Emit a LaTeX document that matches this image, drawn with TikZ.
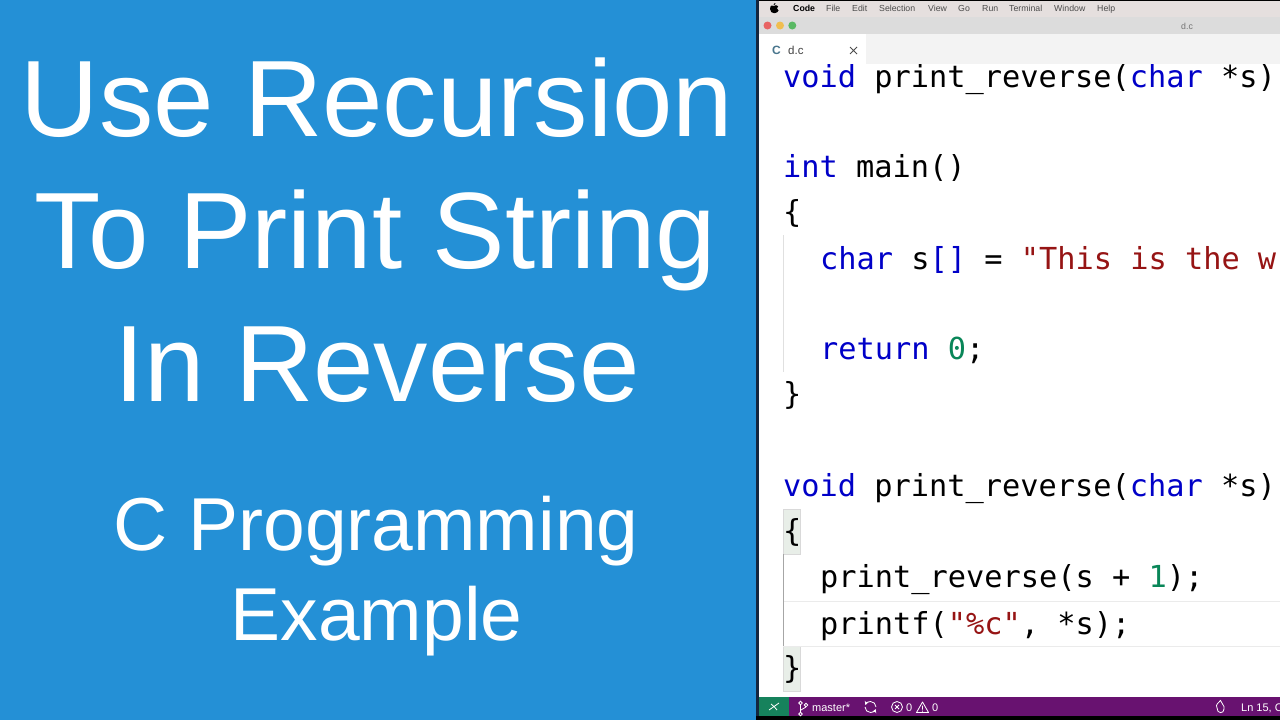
\documentclass[tikz,border=0pt]{standalone}
\usepackage{fontspec}
\setmainfont{Liberation Sans}
\newfontfamily\codefont{DejaVu Sans Mono}
\definecolor{panelblue}{RGB}{36,144,214}
\definecolor{edgedark}{RGB}{20,38,62}
\definecolor{menugrey}{RGB}{229,223,222}
\definecolor{titlegrey}{RGB}{220,220,220}
\definecolor{tabgrey}{RGB}{243,243,243}
\definecolor{barpurple}{RGB}{104,18,112}
\definecolor{bargreen}{RGB}{22,130,92}
\definecolor{kwblue}{RGB}{0,0,200}
\definecolor{strred}{RGB}{150,20,20}
\definecolor{numgreen}{RGB}{9,134,88}
\definecolor{matchgrey}{RGB}{232,238,232}
\definecolor{dotred}{RGB}{232,100,100}
\definecolor{dotyellow}{RGB}{240,190,80}
\definecolor{dotgreen}{RGB}{90,185,100}
\newcommand{\kw}[1]{\textcolor{kwblue}{#1}}
\newcommand{\str}[1]{\textcolor{strred}{#1}}
\newcommand{\num}[1]{\textcolor{numgreen}{#1}}
\tikzset{
    bigtitle/.style={text=white, anchor=base, inner sep=0pt, font=\fontsize{108.6}{120}\selectfont},
    subtitle/.style={text=white, anchor=base, inner sep=0pt, font=\fontsize{75}{85}\selectfont},
    codeline/.style={anchor=base west, inner sep=0pt, font=\codefont\fontsize{30.3}{36}\selectfont},
    menuitem/.style={anchor=base west, inner sep=0pt, text=black!70, font=\fontsize{8.75}{10}\selectfont},
    statusitem/.style={anchor=base west, inner sep=0pt, text=white, font=\fontsize{11}{13}\selectfont},
    windowdot/.style={circle, minimum size=8pt, inner sep=0pt},
    matchbox/.style={fill=matchgrey, draw=black!15, line width=0.6pt},
    statusicon/.style={draw=white, line width=0.8pt}
}
\begin{document}
\begin{tikzpicture}[x=1pt, y=-1pt]
    \useasboundingbox (0, 0) rectangle (1280, 720);
    % left panel
    \fill[panelblue] (0, 0) rectangle (756, 720);
    \node[bigtitle] (titleone) at (377, 136) {Use Recursion};
    \node[bigtitle] (titletwo) at (375.5, 268) {To Print String};
    \node[bigtitle] (titlethree) at (377, 401) {In Reverse};
    \node[subtitle] (subone) at (376, 550) {C Programming};
    \node[subtitle] (subtwo) at (376.5, 640) {Example};
    % editor
    \fill[white] (756, 0) rectangle (1280, 720);
    \draw[matchbox] (783, 509) rectangle (800, 554);
    \draw[matchbox] (783, 646) rectangle (800, 691);
    \draw[black!8, line width=0.8pt] (783, 601) -- (1280, 601);
    \draw[black!8, line width=0.8pt] (783, 646) -- (1280, 646);
    \draw[black!12, line width=0.8pt] (783, 235) -- (783, 372);
    \draw[black!35, line width=0.8pt] (783, 554) -- (783, 646);
    \node[codeline] (lineone) at (783, 87) {\kw{void} print\_reverse(\kw{char} *s)};
    \node[codeline] (linemain) at (783, 177) {\kw{int} main()};
    \node[codeline] (openmain) at (783, 222) {\{};
    \node[codeline] (linechar) at (820, 269) {\kw{char} s\kw{[]} = \str{"This is the w}};
    \node[codeline] (linereturn) at (820, 359) {\kw{return} \num{0};};
    \node[codeline] (closemain) at (783, 404) {\}};
    \node[codeline] (linevoid) at (783, 496) {\kw{void} print\_reverse(\kw{char} *s)};
    \node[codeline] (openfunc) at (783, 541) {\{};
    \node[codeline] (linecall) at (820, 587) {print\_reverse(s + \num{1});};
    \node[codeline] (lineprint) at (820, 634) {printf(\str{"\%c"}, *s);};
    \node[codeline] (closefunc) at (783, 678) {\}};
    % top bars
    \fill[menugrey] (756, 0) rectangle (1280, 17);
    \fill[titlegrey] (756, 17) rectangle (1280, 34);
    \fill[tabgrey] (756, 34) rectangle (1280, 64);
    \fill[white] (756, 34) rectangle (866, 64);
    \fill[black] (756, 0) rectangle (1280, 1);
    \fill[black] (773.5, 6) .. controls (771, 4.5) and (769.5, 7) .. (770, 9) .. controls (770.5, 11.5) and (772, 13.5) .. (773.5, 13) .. controls (774, 12.7) and (774.5, 12.7) .. (775, 13) .. controls (776.5, 13.5) and (778, 11.5) .. (778.5, 10.5) .. controls (776.5, 9.5) and (776.5, 7) .. (778.2, 6.3) .. controls (777, 4.8) and (775, 5) .. (773.5, 6) -- cycle;
    \fill[black] (773.5, 5.2) .. controls (773.5, 3.8) and (774.5, 3) .. (775.5, 3) .. controls (775.5, 4.2) and (774.7, 5) .. (773.5, 5.2) -- cycle;
    \node[menuitem, text=black, font=\bfseries\fontsize{8.75}{10}\selectfont] (menucode) at (793, 12) {Code};
    \foreach \name/\xpos in {File/826, Edit/852, Selection/879, View/928, Go/958, Run/982, Terminal/1009, Window/1054, Help/1097}
        \node[menuitem] (menu\name) at (\xpos, 12) {\name};
    \node[windowdot, fill=dotred] (reddot) at (767.5, 25.5) {};
    \node[windowdot, fill=dotyellow] (yellowdot) at (780, 25.5) {};
    \node[windowdot, fill=dotgreen] (greendot) at (792.3, 25.5) {};
    \node[menuitem, text=black!55] (titlename) at (1181, 29) {d.c};
    \node[anchor=base west, inner sep=0pt, text=cyan!50!black, font=\bfseries\fontsize{12}{14}\selectfont] (tabicon) at (772, 54) {C};
    \node[anchor=base west, inner sep=0pt, text=black!75, font=\fontsize{11.5}{14}\selectfont] (tabname) at (788, 54) {d.c};
    \draw[black!70, line width=0.8pt] (850, 47) -- (857, 54) (850, 54) -- (857, 47);
    % status bar
    \fill[barpurple] (756, 697) rectangle (1280, 716);
    \fill[bargreen] (759, 697) rectangle (789, 716);
    \fill[black] (756, 716) rectangle (1280, 720);
    \draw[statusicon] (769, 710) -- (774, 706.5) -- (771, 704) (779, 703) -- (774, 706.5) (774.5, 707) -- (777, 710);
    \draw[statusicon] (800.5, 703) circle (1.8) (800.5, 714) circle (1.8) (800.5, 705) -- (800.5, 712) (806, 705) circle (1.8) (806, 707) -- (801, 710);
    \node[statusitem] (statusbranch) at (812, 711) {master*};
    \draw[statusicon, ->, >=stealth] (865, 707) arc (180:20:5.5);
    \draw[statusicon, ->, >=stealth] (876, 707) arc (0:-160:5.5);
    \draw[statusicon] (897, 707) circle (5.5) (895, 705) -- (899, 709) (895, 709) -- (899, 705);
    \node[statusitem] (statuserrors) at (906, 711) {0};
    \draw[statusicon, line join=round] (916.5, 712.5) -- (922.5, 702) -- (928.5, 712.5) -- cycle (922.5, 705.5) -- (922.5, 709.5) (922.5, 710.5) -- (922.5, 711.5);
    \node[statusitem] (statuswarnings) at (932, 711) {0};
    \draw[statusicon] (1217, 708) .. controls (1215, 704) and (1219, 703) .. (1220.5, 700.5) .. controls (1221, 704) and (1225, 705) .. (1224, 709) .. controls (1224, 714) and (1217, 714) .. (1217, 708) -- cycle;
    \node[statusitem] (statusline) at (1241, 711) {Ln 15, C};
    % window edge
    \fill[edgedark] (756, 0) rectangle (759, 716);
\end{tikzpicture}
\end{document}
